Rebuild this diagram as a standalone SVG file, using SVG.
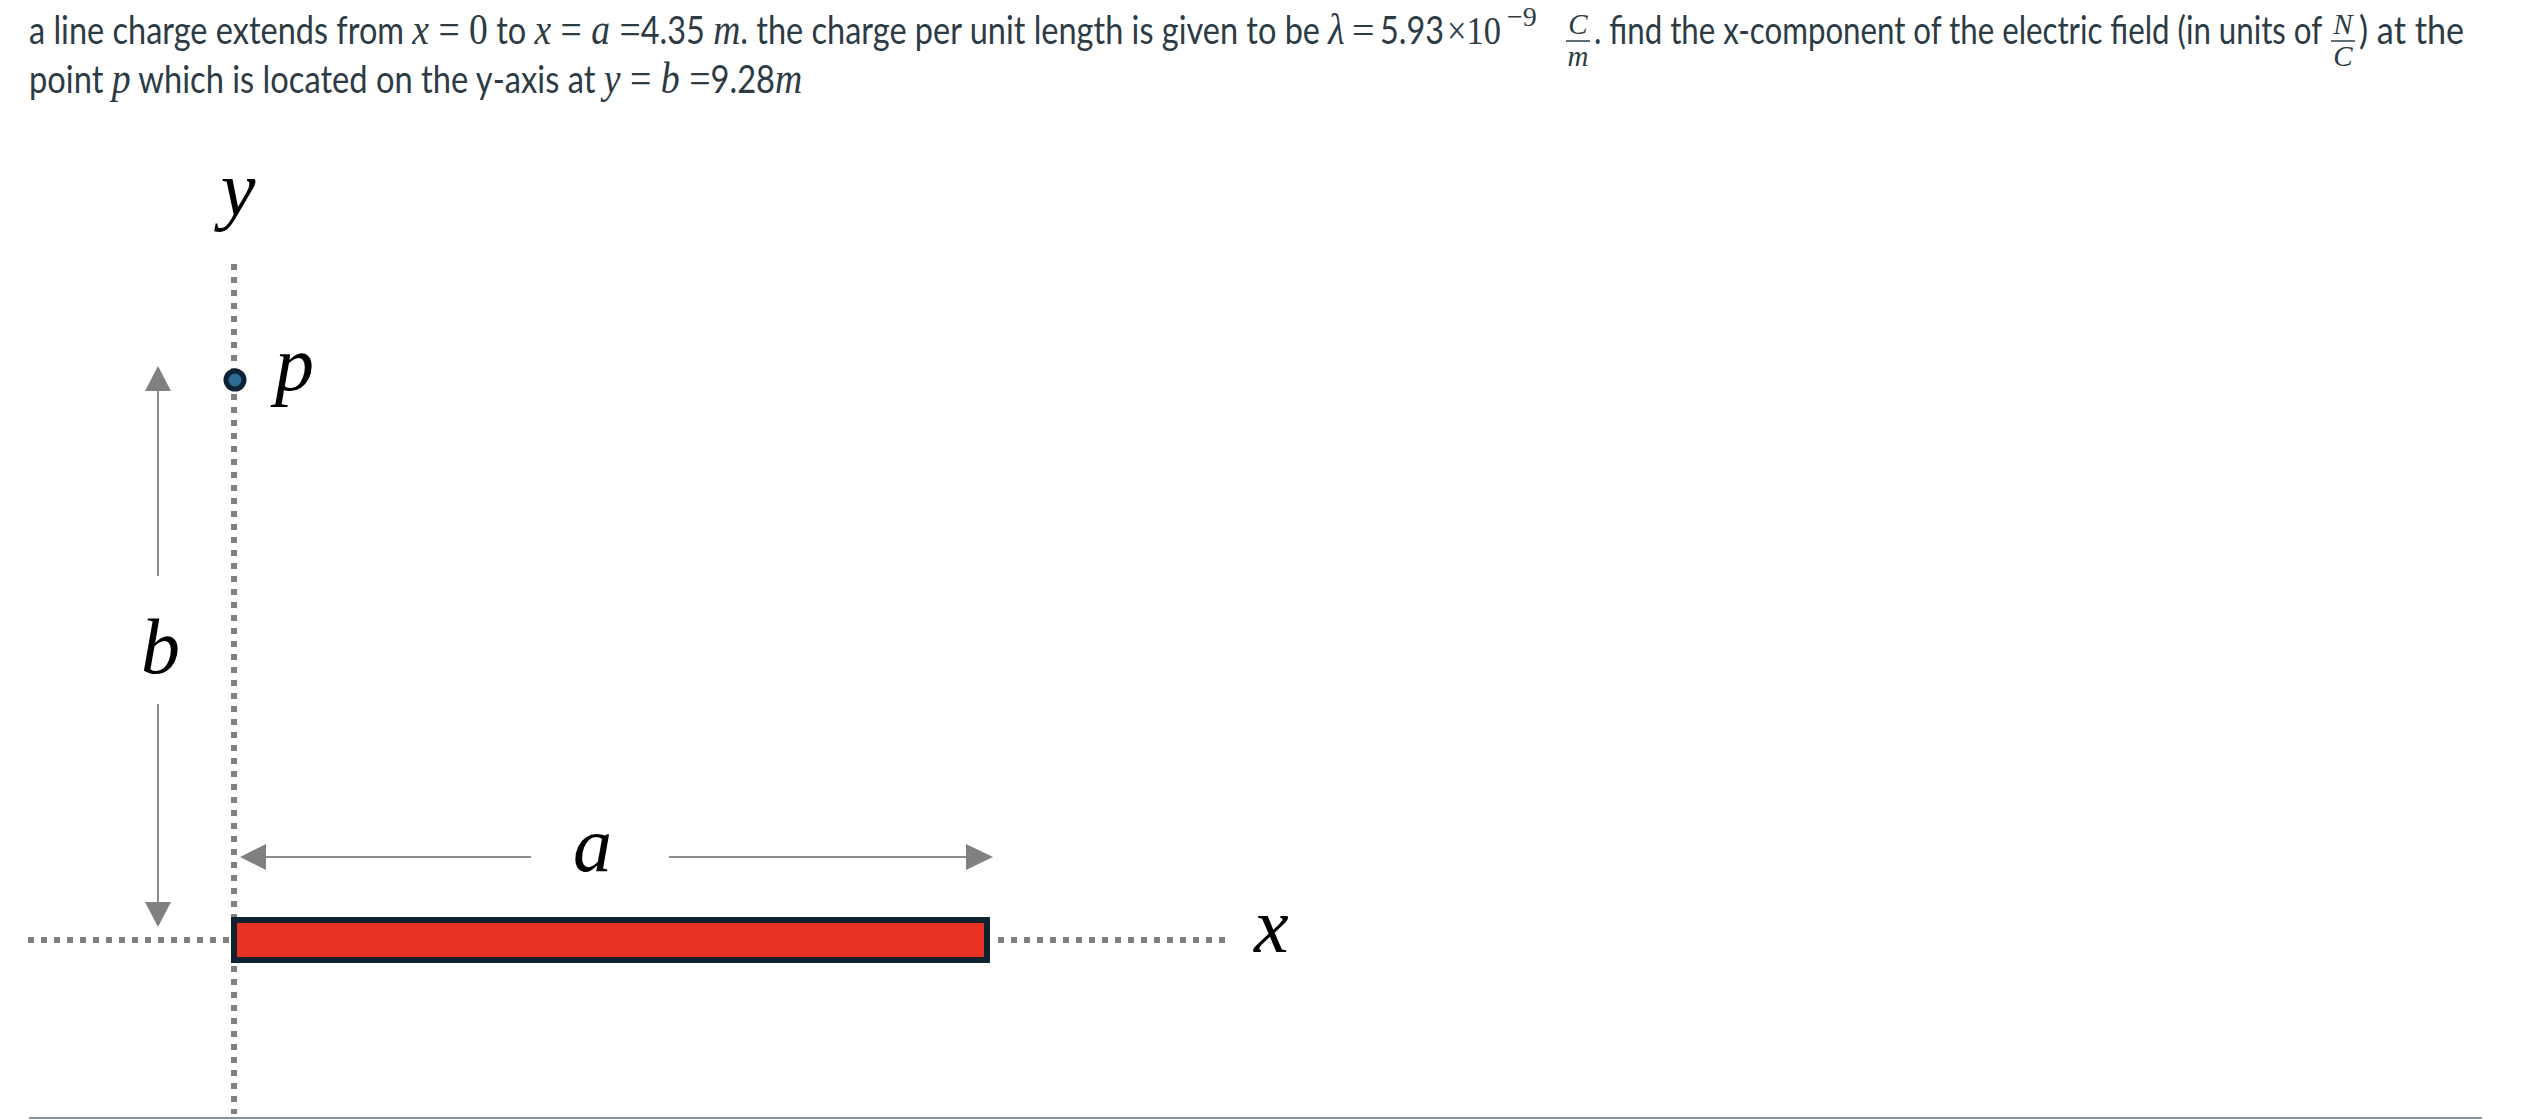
<svg xmlns="http://www.w3.org/2000/svg" width="2524" height="1120" viewBox="0 0 2524 1120">
<style>
.t{font-family:Lato,"Noto Sans",sans-serif;font-size:38px;fill:#2d3b45}
.mi{font-family:"Liberation Serif",serif;font-style:italic;font-size:44px}
.mn{font-family:"Liberation Serif",serif;font-style:normal;font-size:44px}
.m2{font-family:"Liberation Serif",serif;font-style:normal;font-size:40px;fill:#2d3b45}
.fr{font-family:"Liberation Serif",serif;font-style:italic;font-size:29px;fill:#2d3b45}
.lbl{font-family:"Liberation Serif",serif;font-style:italic;font-size:78px;fill:#000}
.axis{stroke:#808080;stroke-width:6;stroke-dasharray:6 7;fill:none}
.dim{stroke:#8c8c8c;stroke-width:2;fill:none}
.head{fill:#808080}
.bar{stroke:#2d3b45;stroke-width:1.5}
</style>
<rect width="2524" height="1120" fill="#fff"/>
<g id="question">
<g transform="translate(29 0) scale(0.855 1)">
<text class="t" x="0" y="44">a line charge extends from <tspan class="mi">x</tspan><tspan class="mn"> = 0</tspan> to <tspan class="mi">x</tspan><tspan class="mn"> = </tspan><tspan class="mi">a</tspan><tspan class="mn"> =</tspan>4.35 <tspan class="mi">m</tspan>. the charge per unit length is given to be <tspan class="mi">λ</tspan></text>
</g>
<text class="m2" x="1352" y="44">=</text>
<g transform="translate(1380 0) scale(0.853 1)"><text class="t" x="0" y="44">5.93</text></g>
<g transform="translate(1447 0) scale(0.863 1)"><text class="m2" x="0" y="44">×10</text></g>
<text class="m2" x="1507" y="26" style="font-size:28px">−9</text>
<text class="fr" x="1578" y="34" text-anchor="middle">C</text>
<line class="bar" x1="1566" y1="41" x2="1590" y2="41"/>
<text class="fr" x="1578" y="66" text-anchor="middle">m</text>
<g transform="translate(1594 0) scale(0.822 1)"><text class="t" x="0" y="44">. find the x-component of the electric field (in units of</text></g>
<text class="fr" x="2343" y="34" text-anchor="middle">N</text>
<line class="bar" x1="2331" y1="41" x2="2355" y2="41"/>
<text class="fr" x="2343" y="66" text-anchor="middle">C</text>
<g transform="translate(2359 0) scale(0.9 1)"><text class="t" x="0" y="44">) at the</text></g>
<g transform="translate(29 0) scale(0.86 1)">
<text class="t" x="0" y="93">point <tspan class="mi">p</tspan> which is located on the y-axis at <tspan class="mi">y</tspan><tspan class="mn"> = </tspan><tspan class="mi">b</tspan><tspan class="mn"> =</tspan>9.28<tspan class="mi">m</tspan></text>
</g>
</g>
<g id="connectors">
<line id="y-axis" class="axis" x1="234" y1="264" x2="234" y2="1114"/>
<line id="x-axis-left" class="axis" x1="28" y1="940" x2="231" y2="940"/>
<line id="x-axis-right" class="axis" x1="998" y1="940" x2="1228" y2="940"/>
<g id="dim-b">
<line class="dim" x1="158" y1="390" x2="158" y2="576"/>
<line class="dim" x1="158" y1="704" x2="158" y2="904"/>
<polygon class="head" points="158,366 145,391 171,391"/>
<polygon class="head" points="158,927 145,902 171,902"/>
</g>
<g id="dim-a">
<line class="dim" x1="265" y1="857" x2="531" y2="857"/>
<line class="dim" x1="669" y1="857" x2="967" y2="857"/>
<polygon class="head" points="240,857 266,844 266,870"/>
<polygon class="head" points="993,857 966,844 966,870"/>
</g>
</g>
<g id="line-charge">
<rect x="234" y="920" width="753" height="40" fill="#e63323" stroke="#10212f" stroke-width="6"/>
</g>
<g id="point-p">
<circle cx="235" cy="380" r="9" fill="#2e6a96" stroke="#0f2233" stroke-width="5"/>
</g>
<g id="labels">
<text class="lbl" x="238" y="215" text-anchor="middle">y</text>
<text class="lbl" x="275" y="390">p</text>
<text class="lbl" x="141" y="673">b</text>
<text class="lbl" x="573" y="871">a</text>
<text class="lbl" x="1254" y="952">x</text>
</g>
<line id="baseline-rule" x1="29" y1="1118" x2="2482" y2="1118" stroke="#8a9299" stroke-width="2"/>
</svg>
